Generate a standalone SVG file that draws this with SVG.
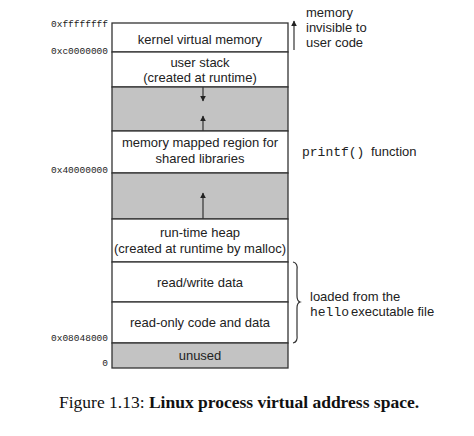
<svg xmlns="http://www.w3.org/2000/svg" width="474" height="436" viewBox="0 0 474 436">
<style>
.box{stroke:#333;stroke-width:1.3;}
.w{fill:#fff;}
.g{fill:#c3c3c3;}
.t{font-family:"Liberation Sans",Arial,sans-serif;font-size:13px;fill:#222;text-anchor:middle;}
.s{font-family:"Liberation Sans",Arial,sans-serif;font-size:13px;fill:#222;}
.m{font-family:"Liberation Mono","Courier New",monospace;font-size:13px;fill:#222;}
.a{font-family:"Liberation Mono","Courier New",monospace;font-size:9.5px;fill:#222;text-anchor:end;}
.ln{stroke:#333;stroke-width:1.2;fill:none;}
</style>
<defs>
<marker id="ah" viewBox="0 0 10 10" refX="9" refY="5" markerWidth="6" markerHeight="6" orient="auto" markerUnits="userSpaceOnUse">
<path d="M0,0 L10,5 L0,10 z" fill="#222"/>
</marker>
</defs>
<rect width="474" height="436" fill="#fff"/>
<g id="kernel"><rect class="box w" x="112" y="23" width="176" height="29"/><text class="t" x="200" y="44">kernel virtual memory</text></g>
<g id="stack"><rect class="box w" x="112" y="52" width="176" height="35"/><text class="t" x="200" y="67">user stack</text><text class="t" x="200" y="82">(created at runtime)</text></g>
<g id="gap1"><rect class="box g" x="112" y="87" width="176" height="44"/></g>
<g id="mmap"><rect class="box w" x="112" y="131" width="176" height="42"/><text class="t" x="200" y="147">memory mapped region for</text><text class="t" x="200" y="163">shared libraries</text></g>
<g id="gap2"><rect class="box g" x="112" y="173" width="176" height="46"/></g>
<g id="heap"><rect class="box w" x="112" y="219" width="176" height="43"/><text class="t" x="200" y="237">run-time heap</text><text class="t" x="200" y="253">(created at runtime by malloc)</text></g>
<g id="rw"><rect class="box w" x="112" y="262" width="176" height="40"/><text class="t" x="200" y="287">read/write data</text></g>
<g id="ro"><rect class="box w" x="112" y="302" width="176" height="41"/><text class="t" x="200" y="327">read-only code and data</text></g>
<g id="unused"><rect class="box g" x="112" y="343" width="176" height="25"/><text class="t" x="200" y="360">unused</text></g>
<g id="addresses">
<text class="a" x="108" y="27">0xffffffff</text>
<text class="a" x="108" y="54">0xc0000000</text>
<text class="a" x="108" y="173">0x40000000</text>
<text class="a" x="108" y="341">0x08048000</text>
<text class="a" x="108" y="366">0</text>
</g>
<g id="connectors">
<line class="ln" x1="203" y1="87" x2="203" y2="101" marker-end="url(#ah)"/>
<line class="ln" x1="203" y1="131" x2="203" y2="116" marker-end="url(#ah)"/>
<line class="ln" x1="203" y1="219" x2="203" y2="193" marker-end="url(#ah)"/>
<line class="ln" x1="294" y1="50" x2="294" y2="21" marker-end="url(#ah)"/>
<path class="ln" stroke-width="1" d="M293,262 Q298,263 297,270 L297,296 Q297,301 300,302 Q297,303 297,308 L297,335 Q298,342 293,343"/>
</g>
<g id="notes">
<text class="s" x="306" y="17">memory</text>
<text class="s" x="306" y="32">invisible to</text>
<text class="s" x="306" y="47">user code</text>
<text x="302" y="156"><tspan class="m">printf()</tspan><tspan class="s" x="371">function</tspan></text>
<text class="s" x="310" y="301">loaded from the</text>
<text x="310" y="316"><tspan class="m">hello</tspan><tspan class="s" x="351">executable file</tspan></text>
</g>
<g id="caption">
<text x="239" y="408" text-anchor="middle" font-family="'Liberation Serif','Times New Roman',serif" font-size="17.5" fill="#111">Figure 1.13: <tspan font-weight="bold">Linux process virtual address space.</tspan></text>
</g>
</svg>
